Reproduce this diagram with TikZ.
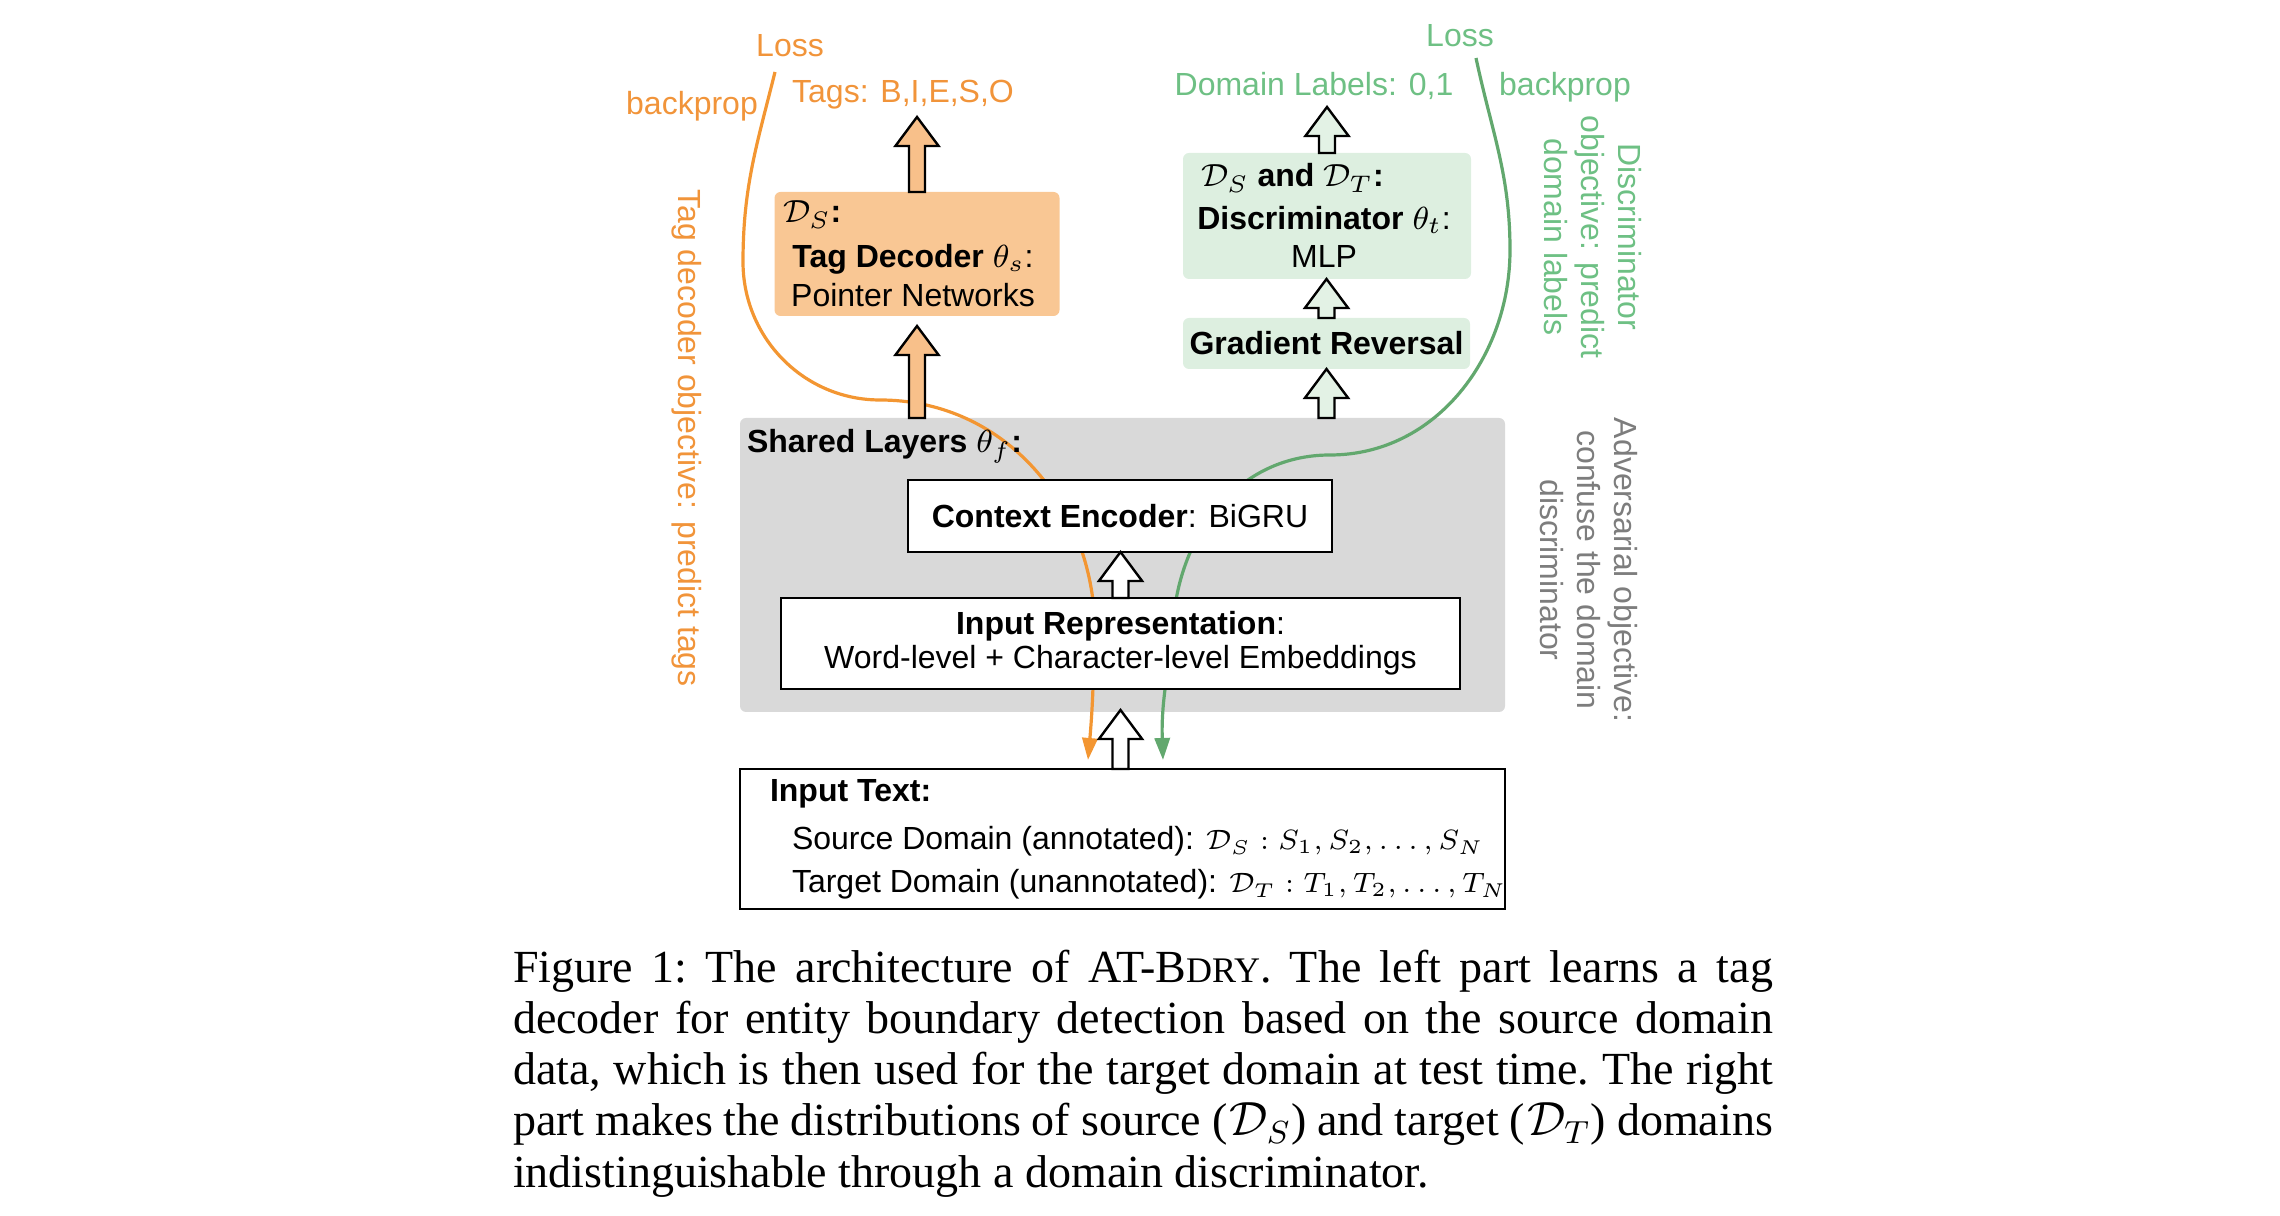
\documentclass[tikz,border=0pt]{standalone}
\usepackage{fontspec}
\setmainfont{Liberation Serif}
\newfontfamily\arialf{Liberation Sans}
\usetikzlibrary{calc,arrows.meta}
\definecolor{orline}{RGB}{243,150,50}
\definecolor{ortext}{RGB}{241,148,58}
\definecolor{orfill}{RGB}{249,199,148}
\definecolor{orfilltwo}{RGB}{248,192,138}
\definecolor{grline}{RGB}{98,168,110}
\definecolor{grtext}{RGB}{110,192,132}
\definecolor{grfill}{RGB}{221,239,224}
\definecolor{grfilltwo}{RGB}{227,242,229}
\definecolor{grayfill}{RGB}{217,217,217}
\definecolor{graytext}{RGB}{125,125,125}
\newcommand\dfont{\arialf\fontsize{8}{9.2}\selectfont}
\newcommand\smath[1]{{\fontsize{7.1}{8}\selectfont$#1$}}
\newcommand\fatarrow[3]{%
  \draw[#1] let \p1=#2, \p2=#3 in
    (\x1-2pt,\y1) -- (\x1-2pt,\y2-7.25pt) -- (\x1-5.4pt,\y2-7.25pt) -- (\x1,\y2)
    -- (\x1+5.4pt,\y2-7.25pt) -- (\x1+2pt,\y2-7.25pt) -- (\x1+2pt,\y1) -- cycle;}
\begin{document}
\begin{tikzpicture}[x=0.25pt,y=-0.25pt,
  every node/.style={inner sep=0pt,outer sep=0pt,font=\dfont},
  orbox/.style={fill=orfill, rounded corners=1.5pt},
  grbox/.style={fill=grfill, rounded corners=1.5pt},
  wbox/.style={draw=black, fill=white, line width=0.6pt},
  orarr/.style={draw=black, fill=orfilltwo, line width=0.6pt},
  grarr/.style={draw=black, fill=grfilltwo, line width=0.6pt},
  wharr/.style={draw=black, fill=white, line width=0.6pt},
  orcurve/.style={draw=orline, line width=0.8pt, -{Triangle[length=5.5pt,width=3.8pt]}},
  grcurve/.style={draw=grline, line width=0.8pt, -{Triangle[length=5.5pt,width=3.8pt]}},
  ortxt/.style={text=ortext},
  grtxt/.style={text=grtext},
  graytxt/.style={text=graytext}]
\useasboundingbox (0,0) rectangle (2280,1216);

% shared layers background
\node[fill=grayfill, rounded corners=1.5pt, minimum width=191.25pt, minimum height=73.5pt] (shared) at (1122.5,565) {};

% backprop curves
\coordinate (oS) at (775,72);
\coordinate (o1) at (743,262);
\coordinate (o2) at (880,400);
\coordinate (o3) at (1094,610);
\coordinate (oE) at (1088,760);
\draw[orcurve] (oS) to[out=256,in=90] (o1) to[out=-90,in=180] (o2) to[out=0,in=95] (o3) to[out=-90,in=85] (oE);

\coordinate (gS) at (1476,58);
\coordinate (g1) at (1510,250);
\coordinate (g2) at (1330,455);
\coordinate (g3) at (1176,600);
\coordinate (gE) at (1163,760);
\draw[grcurve] (gS) to[out=-78,in=90] (g1) to[out=-90,in=0] (g2) to[out=180,in=80] (g3) to[out=-95,in=92] (gE);

% white boxes
\node[wbox, minimum width=106pt, minimum height=18pt] (ctx) at (1120,516) {\textbf{Context Encoder}: BiGRU};
\node[wbox, minimum width=169.75pt, minimum height=22.75pt, align=center] (inrep) at (1120.5,643.5) {\textbf{Input Representation}:\\[-0.6pt]Word-level + Character-level Embeddings};
\node[wbox, minimum width=191.25pt, minimum height=35pt] (intext) at (1122.5,839) {};

% coloured boxes
\node[orbox, minimum width=71.25pt, minimum height=31pt] (dec) at (917,254) {};
\node[grbox, minimum width=72pt, minimum height=31.5pt] (disc) at (1327,216) {};
\node[grbox, minimum width=71.75pt, minimum height=12.75pt] (grev) at (1326.5,343.5) {\textbf{Gradient Reversal}};

% block arrows
\coordinate (tagtip) at (917,117);
\coordinate (dltip) at (1327,107);
\fatarrow{orarr}{(dec.north)}{(tagtip)}
\fatarrow{orarr}{(shared.north -| dec.south)}{($(dec.south)+(0,10)$)}
\fatarrow{grarr}{(disc.north)}{(dltip)}
\fatarrow{grarr}{(grev.north)}{(disc.south)}
\fatarrow{grarr}{(shared.north -| grev.south)}{(grev.south)}
\fatarrow{wharr}{(inrep.north)}{(ctx.south)}
\fatarrow{wharr}{(intext.north -| inrep.south)}{($(inrep.south)+(0,21)$)}

% orange texts
\node[ortxt, anchor=base] (lossO) at (790,57) {Loss};
\node[ortxt, anchor=base] (bpO) at (692,115) {backprop};
\node[ortxt, anchor=base] (tags) at (903,103) {Tags: B,I,E,S,O};
\node[ortxt, rotate=-90] (tdo) at (687,438) {Tag decoder objective: predict tags};
\node[anchor=base west] (dsl) at (783,223) {$\mathcal{D}_S$\textbf{:}};
\node[anchor=base] (decl) at (913,268) {\textbf{Tag Decoder} $\theta_s$:};
\node[anchor=base] (decp) at (913,307) {Pointer Networks};

% green texts
\node[grtxt, anchor=base] (lossG) at (1460,47) {Loss};
\node[grtxt, anchor=base] (dlab) at (1314,96) {Domain Labels: 0,1};
\node[grtxt, anchor=base] (bpG) at (1565,96) {backprop};
\node[grtxt, rotate=-90, align=center] (dobj) at (1593,237) {Discriminator\\objective: predict\\domain labels};
\node[anchor=base west] (discl1) at (1201,187) {$\mathcal{D}_S$ \textbf{and} $\mathcal{D}_T$\textbf{:}};
\node[anchor=base] (discl2) at (1324,230) {\textbf{Discriminator} $\theta_t$:};
\node[anchor=base] (discl3) at (1324,268) {MLP};

% gray texts
\node[graytxt, rotate=-90, align=center] (adv) at (1589,570) {Adversarial objective:\\confuse the domain\\discriminator};
\node[anchor=base west] (shl) at (747,453) {\textbf{Shared Layers} $\theta_f$\textbf{:}};

% input text
\node[anchor=base west] (it1) at (770,802) {\textbf{Input Text:}};
\node[anchor=base west] (it2) at (792,850) {Source Domain (annotated): \smath{\mathcal{D}_S : S_1, S_2, \ldots, S_N}};
\node[anchor=base west] (it3) at (792,893) {Target Domain (unannotated): \smath{\mathcal{D}_T : T_1, T_2, \ldots, T_N}};

% caption
\node[anchor=north west, text width=315pt, align=justify, font=\rmfamily\fontsize{11.5}{12.8}\selectfont] (cap) at (513,950)
{\hyphenpenalty=10000\frenchspacing Figure 1: The architecture of AT-B{\fontsize{9}{8}\selectfont DRY}. The left part learns a tag\linebreak
decoder for entity boundary detection based on the source domain\linebreak
data, which is then used for the target domain at test time. The right\linebreak
part makes the distributions of source (\kern0.6pt$\mathcal{D}_S$) and target (\kern0.6pt$\mathcal{D}_T$) domains\linebreak
indistinguishable through a domain discriminator.};
\end{tikzpicture}
\end{document}
